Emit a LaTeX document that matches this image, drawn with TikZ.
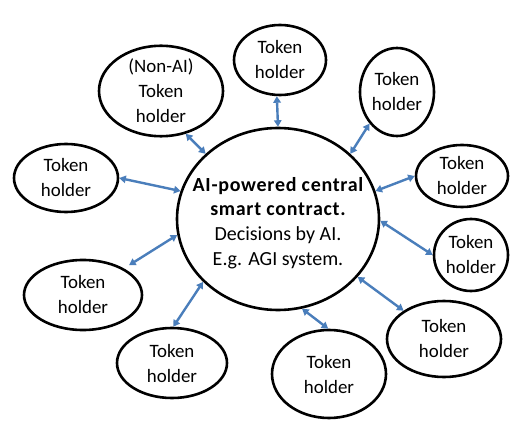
\documentclass[tikz,border=0pt]{standalone}
\usepackage{fontspec}
\setmainfont{Carlito}
\newfontfamily\boldwide[LetterSpace=3.5,BoldFont={Carlito Bold}]{Carlito}
\usetikzlibrary{arrows.meta,shapes.geometric}
\definecolor{arrowblue}{HTML}{4A7EBB}
\begin{document}
\begin{tikzpicture}[x=1pt,y=-1pt,
  holder/.style={draw=black,line width=2.6pt,ellipse,inner sep=0pt,align=center,
    font=\fontsize{18.9}{25}\selectfont},
  centretext/.style={align=center,inner sep=0pt,font=\fontsize{20}{24.7}\selectfont},
  link/.style={draw=arrowblue,line width=2.4pt,{Triangle[length=6.5pt,width=7.5pt]}-{Triangle[length=6.5pt,width=7.5pt]}}]
\useasboundingbox (0,0) rectangle (526,435);
\fill[white] (0,0) rectangle (526,435);
\node[holder,minimum width=202pt,minimum height=182pt,
  label={[centretext,yshift=-4pt]center:{\boldwide\bfseries AI-powered central}\\{\boldwide\bfseries smart contract.}\\Decisions by AI.\\E.g. AGI system.}] (c) at (278,219) {};
\node[holder,minimum width=92pt,minimum height=70pt] (t1) at (280,60) {Token\\holder};
\node[holder,minimum width=124pt,minimum height=88pt] (n) at (161,91) {(Non-AI)\\Token\\holder};
\node[holder,minimum width=74pt,minimum height=88pt] (tr) at (397,92) {Token\\holder};
\node[holder,minimum width=92pt,minimum height=62pt] (ru) at (462,176) {Token\\holder};
\node[holder,minimum width=104pt,minimum height=68pt] (l) at (66,178) {Token\\holder};
\node[holder,minimum width=74pt,minimum height=72pt] (rm) at (471,255) {Token\\holder};
\node[holder,minimum width=118pt,minimum height=70pt] (ll) at (83,295) {Token\\holder};
\node[holder,minimum width=110pt,minimum height=70pt] (bl) at (172,363) {Token\\holder};
\node[holder,minimum width=114pt,minimum height=88pt] (bc) at (329,374) {Token\\holder};
\node[holder,minimum width=114pt,minimum height=76pt] (rl) at (444,339) {Token\\holder};
\draw[link] (c.90.6) -- (t1.265);
\draw[link] (c.138.3) -- (n.300.5);
\draw[link] (c.164.3) -- (l.0);
\draw[link] (c.42.9) -- (tr.229.8);
\draw[link] (c.16.6) -- (ru.180);
\draw[link] (c.359) -- (rm.180);
\draw[link] (c.324.7) -- (rl.145.3);
\draw[link] (c.285) -- (bc.91.3);
\draw[link] (c.220.4) -- (bl.88);
\draw[link,shorten >=6pt] (c.189.6) -- (ll.33.4);
\end{tikzpicture}
\end{document}
